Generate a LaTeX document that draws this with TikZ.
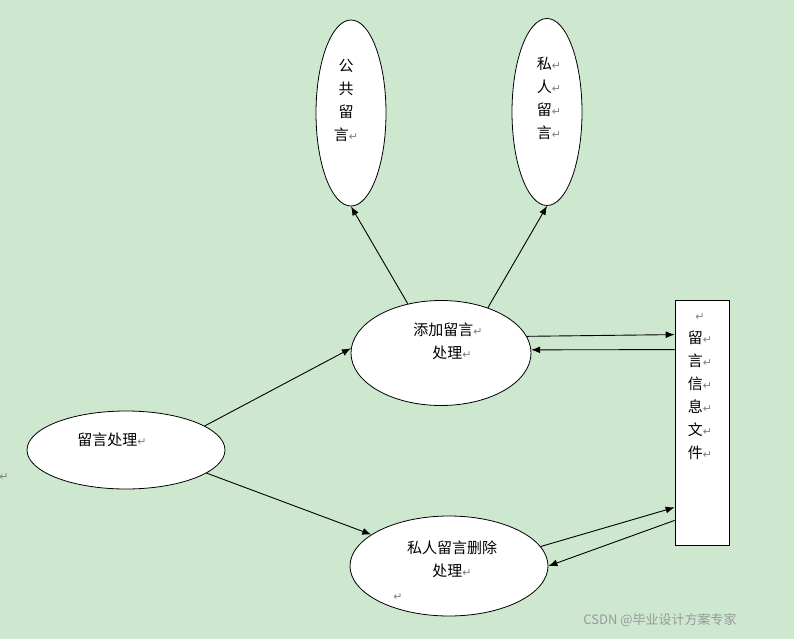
\documentclass[tikz,border=0pt]{standalone}
\usepackage{fontspec}
\setmainfont{Noto Sans CJK SC}
\newfontfamily\symf{DejaVu Sans}
\usetikzlibrary{shapes.geometric,arrows.meta}
\definecolor{bg}{HTML}{CDE8CF}
\newcommand{\rt}{{\symf\color{gray}\fontsize{11}{11}\selectfont ↵}}
\begin{document}
\begin{tikzpicture}[x=1pt,y=-1pt,
  ell/.style={ellipse,draw,fill=white,line width=0.8pt,inner sep=0pt},
  txt/.style={font=\fontsize{15}{23}\selectfont,align=center},
  arr/.style={-{Latex[length=9pt,width=7pt]},line width=0.9pt}]
\fill[bg] (0,0) rectangle (794,639);
\useasboundingbox (0,0) rectangle (794,639);
\node[ell,minimum width=70pt,minimum height=186pt] (pub) at (351,113) {};
\node[txt] at (346,100) {公\\共\\留\\言\rt};
\node[ell,minimum width=70pt,minimum height=187pt] (pri) at (547,112) {};
\node[txt] at (549,98) {私\rt\\人\rt\\留\rt\\言\rt};
\node[ell,minimum width=180pt,minimum height=105pt] (add) at (441,353) {};
\node[txt] at (448,341) {添加留言\rt\\\hspace*{8pt}处理\rt};
\node[ell,minimum width=198pt,minimum height=78pt] (main) at (126,450) {};
\node[txt] at (112,440) {留言处理\rt};
\node[ell,minimum width=198pt,minimum height=100pt] (del) at (449,566) {};
\node[txt] at (452,559) {私人留言删除\\处理\rt};
\node at (398,597) {\rt};
\node[draw,fill=white,line width=0.8pt,minimum width=54pt,minimum height=245pt,inner sep=0pt] (file) at (702,422.5) {};
\node[txt,anchor=north] at (700,310) {\rt\\留\rt\\言\rt\\信\rt\\息\rt\\文\rt\\件\rt};
\node at (4,477) {\rt};
\node[font=\fontsize{13}{13}\selectfont,color=gray!80] at (660,620) {CSDN @毕业设计方案专家};
\draw[arr] (add.124) -- (pub.south);
\draw[arr] (add.44) -- (pri.south);
\draw[arr] (main.17) -- (add.177);
\draw[arr] (main.-16) -- (del.158);
\draw[arr] (add.11) -- ([yshift=-35pt]file.north west);
\draw[arr] ([yshift=-50pt]file.north west) -- (add.2);
\draw[arr] (del.12) -- ([yshift=38pt]file.south west);
\draw[arr] ([yshift=25pt]file.south west) -- (del.0);
\end{tikzpicture}
\end{document}
